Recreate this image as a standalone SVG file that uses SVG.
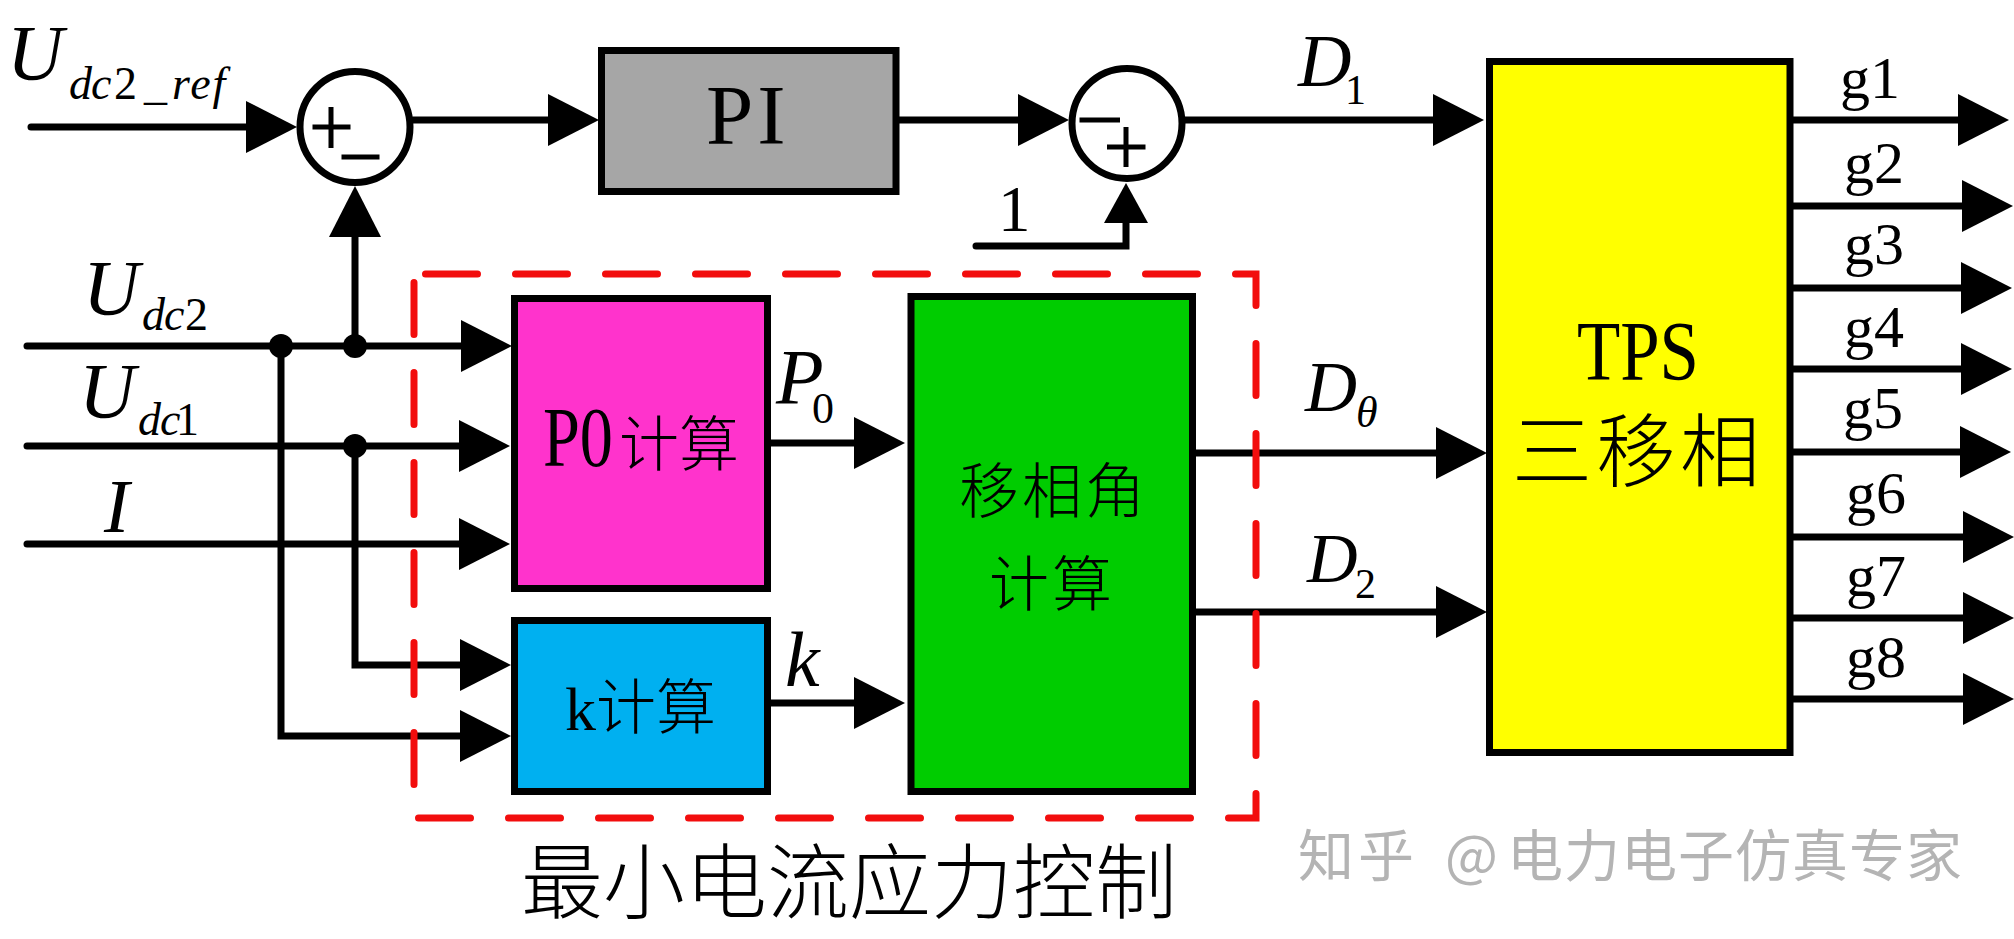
<svg xmlns="http://www.w3.org/2000/svg" width="2014" height="939" viewBox="0 0 2014 939">
<style>
.box{stroke:#000;stroke-width:7}
.sum{fill:#fff;stroke:#000;stroke-width:7}
.sign{fill:none;stroke:#000;stroke-width:5}
.wire{fill:none;stroke:#000;stroke-width:7;stroke-linecap:round;marker-end:url(#arrow)}
.small{marker-end:url(#arrowS)}
.dot{fill:#000}
text{fill:#000;font-family:"Liberation Serif","Noto Sans CJK SC",serif}
.it{font-style:italic}
.cjk{font-family:"Noto Sans CJK SC","Noto Sans CJK TC",sans-serif;font-weight:300}
.wm{font-family:"Noto Sans CJK SC",sans-serif;fill:#b4b4b4;font-size:56px}
#frame{fill:none;stroke:#f20d0d;stroke-width:7;stroke-linecap:round;stroke-dasharray:52 38}
</style>
<defs>
<marker id="arrow" markerUnits="userSpaceOnUse" markerWidth="52" markerHeight="54" refX="10" refY="26" orient="auto" viewBox="0 0 52 54"><path d="M0,0L51,26L0,52z"/></marker>
<marker id="arrowS" markerUnits="userSpaceOnUse" markerWidth="42" markerHeight="46" refX="10" refY="22" orient="auto" viewBox="0 0 42 46"><path d="M0,0L40,22L0,44z"/></marker>
</defs>
<rect width="2014" height="939" fill="#fff"/>
<g id="connectors">
<path class="wire" d="M31,127H256"/>
<path class="wire" d="M413,120H558"/>
<path class="wire" d="M899,120H1028"/>
<path class="wire" d="M1185,120H1443"/>
<path class="wire small" d="M976,246H1126V213"/>
<path class="wire" d="M355,346V227"/>
<path class="wire" d="M27,346H471"/>
<path class="wire" d="M27,446H469"/>
<path class="wire" d="M27,544H469"/>
<path class="wire" d="M281,346V736H470"/>
<path class="wire" d="M355,446V665H470"/>
<path class="wire" d="M771,443H864"/>
<path class="wire" d="M771,703H864"/>
<path class="wire" d="M1196,453H1446"/>
<path class="wire" d="M1196,612H1446"/>
<path class="wire" d="M1793,120H1968"/>
<path class="wire" d="M1793,206H1972"/>
<path class="wire" d="M1793,288H1971"/>
<path class="wire" d="M1793,369H1971"/>
<path class="wire" d="M1793,452H1970"/>
<path class="wire" d="M1793,537H1973"/>
<path class="wire" d="M1793,618H1973"/>
<path class="wire" d="M1793,699H1973"/>
<circle class="dot" cx="281" cy="346" r="12"/>
<circle class="dot" cx="355" cy="346" r="12"/>
<circle class="dot" cx="355" cy="446" r="12"/>
</g>
<path id="frame" d="M425.5,274H1256V818H414V280"/>
<g id="sum1">
<ellipse class="sum" cx="355" cy="127" rx="55" ry="55.500"/>
<path class="sign" d="M312.500,127H350.500M331,107V148M341.500,157H379.500"/>
</g>
<g id="sum2">
<ellipse class="sum" cx="1127" cy="123.500" rx="55" ry="55"/>
<path class="sign" d="M1079.500,120H1120M1107,147H1145.500M1126,127V167"/>
</g>
<g id="pi">
<rect class="box" x="601.500" y="50.500" width="294.500" height="141" fill="#a6a6a6"/>
<text x="706" y="144" font-size="85" letter-spacing="4">PI</text>
</g>
<g id="p0calc">
<rect class="box" x="514.500" y="298.500" width="253" height="290" fill="#ff33cc"/>
<text x="543" y="466" font-size="85" textLength="70" lengthAdjust="spacingAndGlyphs">P0</text>
<text class="cjk" x="619" y="466" font-size="60">计算</text>
</g>
<g id="kcalc">
<rect class="box" x="514.500" y="620.500" width="253" height="171" fill="#00b0f0"/>
<text x="565" y="730" font-size="62">k</text>
<text class="cjk" x="596" y="729" font-size="60">计算</text>
</g>
<g id="phase">
<rect class="box" x="911" y="296.500" width="281.500" height="495" fill="#00cc00"/>
<text class="cjk" x="959" y="513" font-size="60" letter-spacing="3">移相角</text>
<text class="cjk" x="989" y="606" font-size="60" letter-spacing="3">计算</text>
</g>
<g id="tps">
<rect class="box" x="1489.500" y="61.500" width="300.500" height="691" fill="#ffff00"/>
<text x="1577" y="380" font-size="85" textLength="122" lengthAdjust="spacingAndGlyphs">TPS</text>
<text class="cjk" x="1512" y="480" font-size="80" letter-spacing="4">三移相</text>
</g>
<g id="labels">
<text class="it" x="7" y="79" font-size="78">U</text>
<text font-size="46" y="99"><tspan class="it" x="69" letter-spacing="-1">dc</tspan><tspan x="114">2</tspan><tspan class="it" x="144">_</tspan><tspan class="it" x="172" letter-spacing="2">ref</tspan></text>
<text class="it" x="83" y="314" font-size="78">U</text>
<text font-size="46" y="330"><tspan class="it" x="142" letter-spacing="-1">dc</tspan><tspan x="185">2</tspan></text>
<text class="it" x="79" y="417" font-size="78">U</text>
<text font-size="46" y="435"><tspan class="it" x="138" letter-spacing="-1">dc</tspan><tspan x="176">1</tspan></text>
<text class="it" x="104" y="532" font-size="76">I</text>
<text class="it" x="776" y="403" font-size="78">P</text>
<text x="812" y="423" font-size="44">0</text>
<text class="it" x="785" y="686" font-size="78">k</text>
<text x="998" y="231" font-size="65">1</text>
<text class="it" x="1298" y="86" font-size="74">D</text>
<text x="1345" y="104" font-size="42">1</text>
<text class="it" x="1305" y="411" font-size="72">D</text>
<text class="it" x="1356" y="427" font-size="44">θ</text>
<text class="it" x="1307" y="582" font-size="70">D</text>
<text x="1355" y="598" font-size="42">2</text>
<text x="1840" y="98" font-size="60">g1</text>
<text x="1844" y="183" font-size="60">g2</text>
<text x="1844" y="264" font-size="60">g3</text>
<text x="1844" y="347" font-size="60">g4</text>
<text x="1843" y="428" font-size="60">g5</text>
<text x="1846" y="513" font-size="60">g6</text>
<text x="1846" y="596" font-size="60">g7</text>
<text x="1846" y="677" font-size="60">g8</text>
<text class="cjk" x="521" y="912" font-size="82">最小电流应力控制</text>
<text class="wm" x="1298" y="876" letter-spacing="4">知乎</text>
<text class="wm" x="1445" y="876">@</text>
<text class="wm" x="1507" y="876" letter-spacing="1">电力电子仿真专家</text>
</g>
</svg>
